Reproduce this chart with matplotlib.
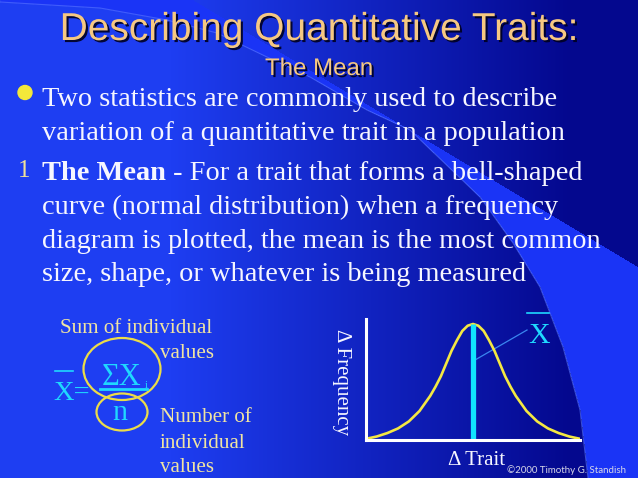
import numpy as np
import matplotlib.pyplot as plt
from matplotlib.patches import Ellipse, Circle
import matplotlib.patheffects as pe

W, H = 638, 478

# bell curve (trait 0-10, frequency scaled so peak = 1)
trait = [0, 0.5, 1, 1.5, 2, 2.5, 3, 3.25, 3.5, 3.75, 4, 4.25, 4.5, 4.75, 5,
         5.25, 5.5, 5.75, 6, 6.25, 6.5, 6.75, 7, 7.5, 8, 8.5, 9, 9.5, 10]
freq = [0.01, 0.03, 0.06, 0.10, 0.16, 0.25, 0.38, 0.46, 0.55, 0.66, 0.77, 0.86, 0.94, 0.985, 1.0,
        0.985, 0.94, 0.86, 0.77, 0.66, 0.55, 0.46, 0.38, 0.25, 0.16, 0.10, 0.06, 0.03, 0.01]
mean_trait = 5.0
mean_freq = 1.0

title = "Describing Quantitative Traits:"
subtitle = "The Mean"
bullet_lines = ["Two statistics are commonly used to describe",
                "variation of a quantitative trait in a population"]
mean_head = "The Mean"
mean_lines = [" - For a trait that forms a bell-shaped",
              "curve (normal distribution) when a frequency",
              "diagram is plotted, the mean is the most common",
              "size, shape, or whatever is being measured"]

# background colours
bright = np.array([30, 62, 242]) / 255
dark = np.array([4, 8, 142]) / 255
wedge = np.array([26, 52, 246]) / 255
arc_x = [0, 100, 167, 217, 267, 310, 367, 410, 480, 513, 540, 563, 580, 588]
arc_y = [2, 8, 20, 33, 57, 77, 110, 130, 197, 243, 287, 347, 410, 478]

yy, xx = np.mgrid[0:H, 0:W]
t = np.clip((xx - 170) / 400.0, 0, 1)
bg = bright[None, None, :] * (1 - t[..., None]) + dark[None, None, :] * t[..., None]
ax_of_y = np.interp(yy, arc_y, arc_x)
in_wedge = (xx > ax_of_y) & (yy > 130 + (xx - 410) * 0.60)
bg[in_wedge] = wedge

fig = plt.figure(figsize=(W / 100, H / 100), dpi=100)
ax = fig.add_axes([0, 0, 1, 1])
ax.imshow(bg, extent=[0, W, H, 0], interpolation='bilinear')
ax.plot(arc_x, arc_y, color='#5a78ff', lw=0.8, alpha=0.6)
ax.set_xlim(0, W)
ax.set_ylim(H, 0)
ax.axis('off')

orange = '#f6c882'
shadow = [pe.withSimplePatchShadow(offset=(1.5, -1.5), shadow_rgbFace='#000020', alpha=0.9)]
ax.text(319, 40, title, fontsize=28, family='Liberation Sans', color=orange,
        ha='center', va='baseline', path_effects=shadow)
ax.text(319, 75, subtitle, fontsize=17.3, family='Liberation Sans', color=orange,
        ha='center', va='baseline', path_effects=shadow)

serif = 'Liberation Serif'
white = '#f6f6ff'
ax.add_patch(Circle((25, 92.5), 7, color='#f3e83a'))
for i, s in enumerate(bullet_lines):
    ax.text(42, 106 + 34 * i, s, fontsize=20.4, family=serif, color=white, va='baseline')

ax.text(18, 177, "1", fontsize=18, family=serif, color='#f0e29a', va='baseline')
head = ax.text(42, 180, mean_head, fontsize=20.4, family=serif, color=white,
               weight='bold', va='baseline')
fig.canvas.draw()
bb = head.get_window_extent().transformed(ax.transData.inverted())
ax.text(bb.x1, 180, mean_lines[0], fontsize=20.4, family=serif, color=white, va='baseline')
for i, s in enumerate(mean_lines[1:]):
    ax.text(42, 214 + 33.5 * i, s, fontsize=20.4, family=serif, color=white, va='baseline')

# mean formula
pale = '#f0e4a2'
cyan = '#1fd8ff'
ax.text(60, 333, "Sum of individual", fontsize=15.1, family=serif, color=pale, va='baseline')
ax.text(160, 358, "values", fontsize=15.1, family=serif, color=pale, va='baseline')
ax.text(160, 422, "Number of", fontsize=15.1, family=serif, color=pale, va='baseline')
ax.text(160, 448, "individual", fontsize=15.1, family=serif, color=pale, va='baseline')
ax.text(160, 472, "values", fontsize=15.1, family=serif, color=pale, va='baseline')

ax.text(53, 400, "X=", fontsize=20.5, family=serif, color=cyan, va='baseline')
ax.plot([55, 73], [371, 371], color=cyan, lw=1.2)
ax.text(102, 385, "\u03a3X", fontsize=22, family=serif, color=cyan, va='baseline')
ax.text(145, 388, "i", fontsize=8, family=serif, color=cyan, va='baseline')
ax.plot([100, 147], [389, 389], color=cyan, lw=2)
ax.text(120, 420, "n", fontsize=21.5, family=serif, color=cyan, va='baseline', ha='center')
yellow = '#ecdc48'
ax.add_patch(Ellipse((122, 369), 77, 62, fill=False, ec=yellow, lw=1.6))
ax.add_patch(Ellipse((122, 412), 51, 37, fill=False, ec=yellow, lw=1.6))

# the frequency diagram
gx = fig.add_axes([366 / W, 1 - 440 / H, (580 - 366) / W, (440 - 319) / H])
gx.patch.set_alpha(0)
gx.plot(trait, freq, color='#f4e842', lw=1.9, solid_capstyle='round')
gx.vlines(mean_trait, 0, mean_freq, color='#10e4ff', lw=3.8)
gx.set_xlim(0, 10)
gx.set_ylim(0, 1.043)
for side in ['top', 'right']:
    gx.spines[side].set_visible(False)
for side in ['left', 'bottom']:
    gx.spines[side].set_color('white')
    gx.spines[side].set_linewidth(2.2)
gx.set_xticks([])
gx.set_yticks([])

ax.text(341, 382, "\u0394 Frequency", fontsize=15, family=serif, color=white,
        rotation=-90, ha='center', va='center')
ax.text(448, 465, "\u0394 Trait", fontsize=15, family=serif, color=white, va='baseline')
ax.plot([475, 527], [360, 330], color='#3a86f0', lw=0.9)
ax.text(528, 343, "X", fontsize=21.5, family=serif, color=cyan, va='baseline')
ax.plot([527, 549], [313, 313], color=cyan, lw=1.2)
ax.text(626, 470, "\u00a92000 Timothy G. Standish", fontsize=7, family='Lato',
        color='#d8d8e8', ha='right', va='center')

fig.savefig('out.png', dpi=100)
